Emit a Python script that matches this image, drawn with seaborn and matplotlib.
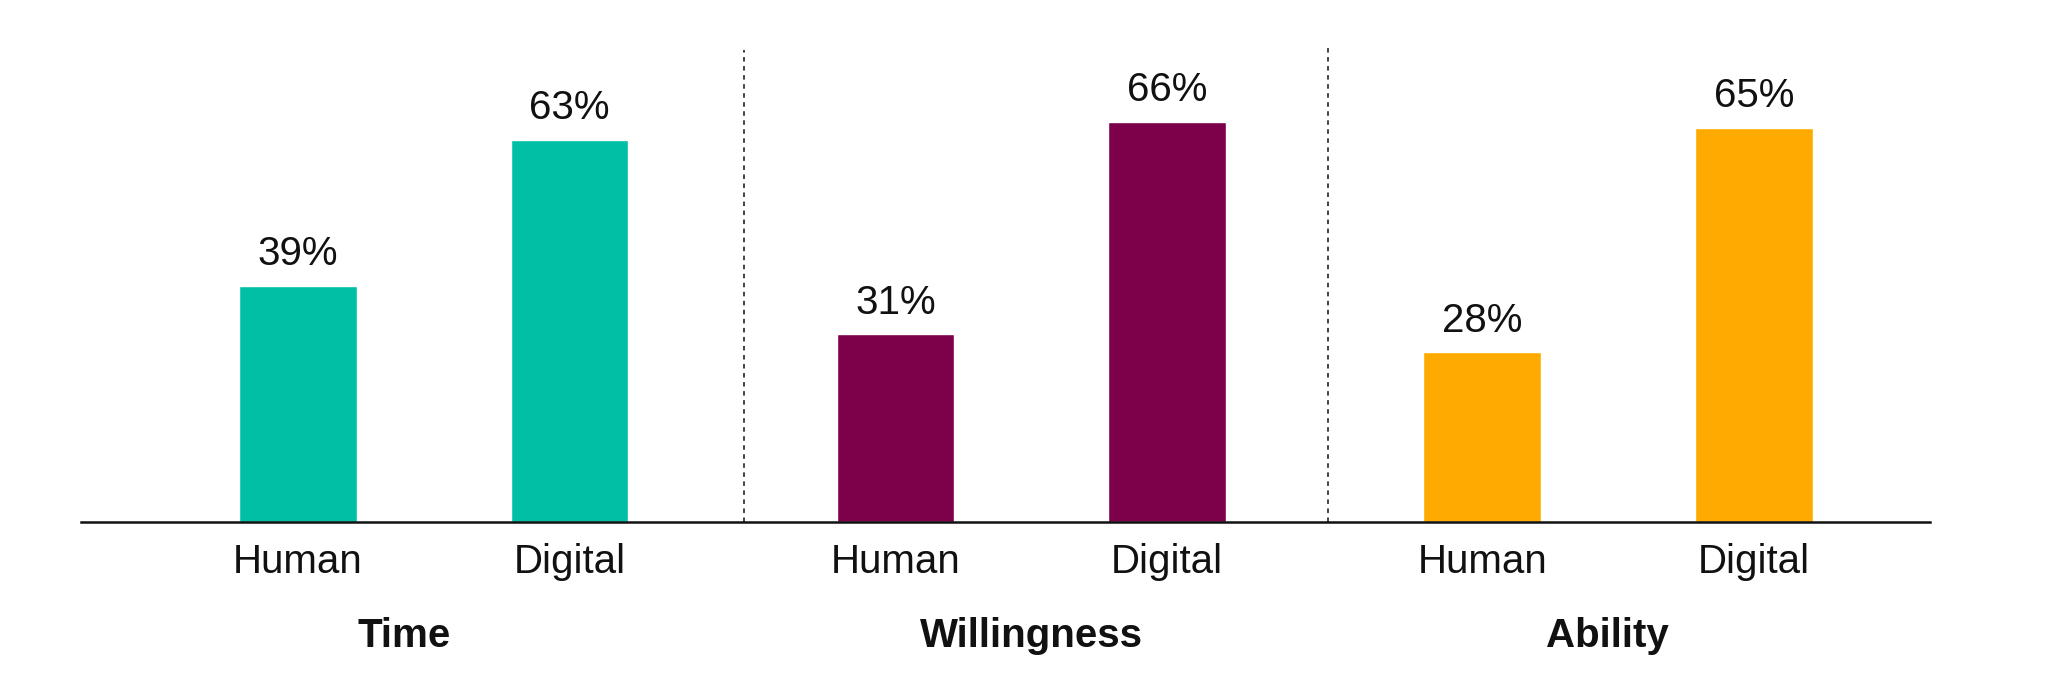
import numpy as np
import pandas as pd
import matplotlib
matplotlib.use("Agg")
import matplotlib.pyplot as plt
import matplotlib.transforms as mtransforms
import seaborn as sns

# ---- data ----
groups = ["Time", "Willingness", "Ability"]
channels = ["Human", "Digital"]
time_vals = [39, 63]
willingness_vals = [31, 66]
ability_vals = [28, 65]
group_colors = ["#00BFA5", "#7D004B", "#FFAA00"]

# ---- layout (x in units of the human/digital spacing) ----
group_starts = [0.0, 2.2, 4.36]
group_label_offsets = [0.39, 0.5, 0.46]
dividers = [1.644, 3.793]

rows = []
for g, start, vals in zip(groups, group_starts, [time_vals, willingness_vals, ability_vals]):
    for i, (ch, v) in enumerate(zip(channels, vals)):
        rows.append({"group": g, "channel": ch, "value": v, "pos": start + i})
df = pd.DataFrame(rows)

sns.set_theme(style="white")
plt.rcParams["font.family"] = ["Liberation Sans", "DejaVu Sans"]

fig = plt.figure(figsize=(20.48, 6.91), dpi=100)
# axes placed in a 1568 x 529 reference frame
W, H = 1568, 529
ax = fig.add_axes([62 / W, 1 - 400 / H, (1478 - 62) / W, 372 / H])

sns.barplot(data=df, x="pos", y="value", hue="group", palette=group_colors,
            native_scale=True, dodge=False, width=0.433, legend=False,
            saturation=1, ax=ax)

for cont in ax.containers:
    ax.bar_label(cont, labels=[f"{v:.0f}%" for v in cont.datavalues],
                 padding=9, fontsize=29, color="#111111")

ax.set_xlim(-0.798, 6.01)
ax.set_ylim(0, 80)

for xd, top in zip(dividers, [77.8, 78.5]):
    ax.plot([xd, xd], [0, top], color="#333333", linestyle=(0, (2.5, 2.5)),
            linewidth=1.3, clip_on=False)

ax.set_xticks(df["pos"].tolist())
ax.set_xticklabels(df["channel"].tolist(), fontsize=29, color="#111111")
ax.tick_params(axis="x", length=0, pad=15)
ax.set_yticks([])
ax.set_xlabel("")
ax.set_ylabel("")

for side in ["left", "right", "top"]:
    ax.spines[side].set_visible(False)
ax.spines["bottom"].set_color("#111111")
ax.spines["bottom"].set_linewidth(1.8)

trans = mtransforms.blended_transform_factory(ax.transData, ax.transAxes)
for g, start, off in zip(groups, group_starts, group_label_offsets):
    ax.text(start + off, -0.234, g, transform=trans, ha="center", va="center",
            fontsize=29, fontweight="bold", color="#111111")

fig.savefig("out.png", dpi=100)
